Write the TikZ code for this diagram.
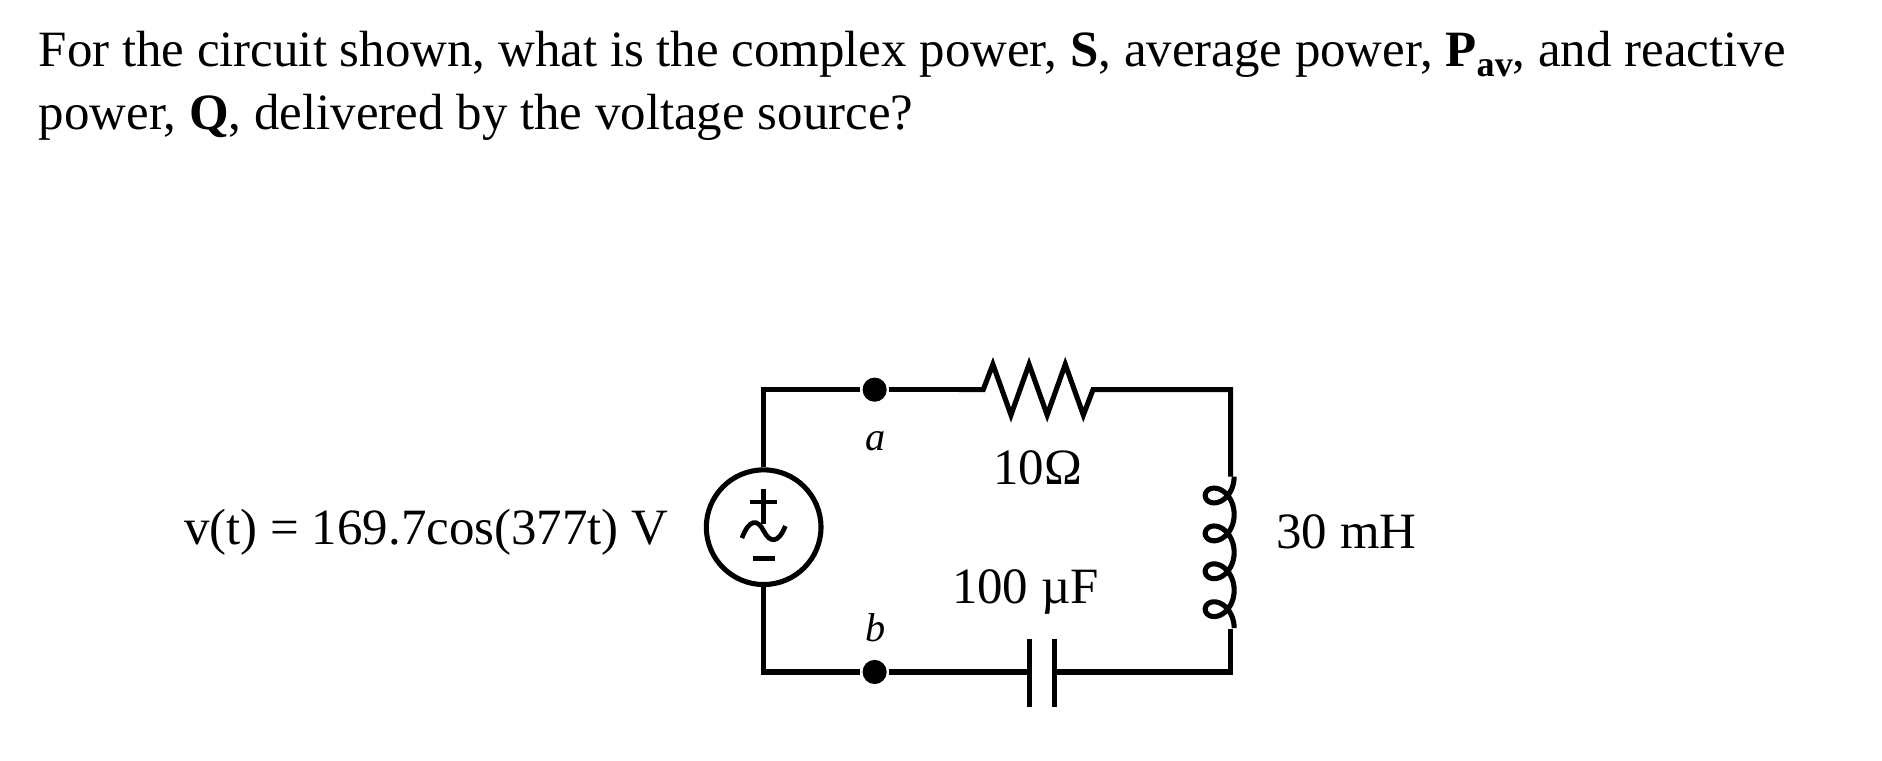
\documentclass[tikz,border=0pt]{standalone}
\usepackage{fontspec}
\setmainfont{Liberation Serif}
\begin{document}
\begin{tikzpicture}[x=0.01cm,y=-0.01cm,line width=1.2pt,
  wire/.style={line width=1.2pt},
  dotnode/.style={circle,fill=black,inner sep=0pt,minimum size=0.2cm},
  lbl/.style={font=\fontsize{12}{14}\selectfont,inner sep=0pt},
  term/.style={font=\fontsize{9.5}{11}\selectfont\itshape,inner sep=0pt}]
\useasboundingbox (0,0) rectangle (1560,630);
\node[anchor=base west,inner sep=0pt,font=\fontsize{12}{14.8}\selectfont,align=left] (q) at (30,107)
 {For the circuit shown, what is the complex power, \textbf{S}, average power, \textbf{P\raisebox{-0.45ex}{\fontsize{8.5}{9}\selectfont av}}, and reactive\\power, \textbf{Q}, delivered by the voltage source?};
% coordinates
\coordinate (tl) at (640,323);
\coordinate (bl) at (640,557);
\coordinate (tr) at (1020,323);
\coordinate (br) at (1020,557);
\node[dotnode] (a) at (725,323) {};
\node[dotnode] (b) at (725,557) {};
\node[circle,draw,line width=1.2pt,minimum size=0.95cm,inner sep=0pt] (src) at (633,437) {};
\coordinate (r1) at (795,323);
\coordinate (r2) at (945,323);
\coordinate (l1) at (1020,395);
\coordinate (l2) at (1020,521);
\coordinate (c1) at (853,557);
\coordinate (c2) at (874,557);
% wires
\draw[wire] (src.north) -- (src.north |- tl) -- (a) -- (r1);
\draw[wire] (src.south) -- (src.south |- bl) -- (b) -- (c1);
\draw[wire] (r1) -- (815,323) -- (823,302) -- (838,344) -- (853,302) -- (868,344) -- (883,302) -- (898,344) -- (906,323) -- (r2) -- (tr) -- (l1);
\draw[wire] plot[domain=0:8*pi,samples=300,variable=\t] ({1011+12*cos(\t r)},{395+5*\t+13*sin(\t r)});
\draw[wire] (l2) -- (br) -- (c2);
\draw[wire] (853,530) -- (853,586);
\draw[wire] (874,530) -- (874,586);
% source symbol
\draw[line width=1.1pt] (622,416) -- (644,416) (633,405) -- (633,434);
\draw[line width=1.1pt] (615,446) .. controls (621,430) and (628,430) .. (633,440) .. controls (638,450) and (645,451) .. (651,436);
\draw[line width=1.1pt] (624,463) -- (642,463);
% labels
\node[term] at (726,366) {a};
\node[term] at (726,520) {b};
\node[lbl] at (860,388) {10Ω};
\node[lbl] at (850,491) {100 µF};
\node[lbl,anchor=west] at (1056,441) {30 mH};
\node[lbl,anchor=east] at (556,441) {v(t) = 169.7cos(377t) V};
\end{tikzpicture}
\end{document}
